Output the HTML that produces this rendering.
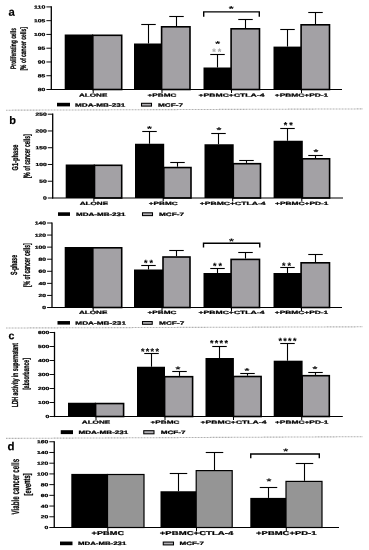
<!DOCTYPE html>
<html><head><meta charset="utf-8"><title>Figure</title>
<style>html,body{margin:0;padding:0;background:#fff}svg{display:block}text{text-rendering:geometricPrecision}</style></head>
<body>
<svg width="369" height="550" viewBox="0 0 369 550">
<rect width="369" height="550" fill="#fff"/>
<line x1="6.00" y1="110.20" x2="363.00" y2="108.90" stroke="#a8a8a8" stroke-width="1.1" stroke-dasharray="0.9 0.6"/>
<line x1="6.00" y1="328.00" x2="363.00" y2="326.80" stroke="#a8a8a8" stroke-width="1.1" stroke-dasharray="0.9 0.6"/>
<line x1="6.00" y1="438.40" x2="363.00" y2="436.70" stroke="#a8a8a8" stroke-width="1.1" stroke-dasharray="0.9 0.6"/>
<rect x="64.70" y="34.50" width="28.50" height="55.00" fill="#000"/>
<rect x="92.80" y="35.30" width="28.90" height="54.20" fill="#a3a1a5" stroke="#000" stroke-width="1.6"/>
<line x1="93.20" y1="89.50" x2="93.20" y2="93.00" stroke="#000" stroke-width="1.0" />
<line x1="148.50" y1="24.50" x2="148.50" y2="43.50" stroke="#000" stroke-width="1.1" />
<line x1="141.25" y1="24.50" x2="155.75" y2="24.50" stroke="#000" stroke-width="1.1" />
<line x1="176.50" y1="16.50" x2="176.50" y2="26.00" stroke="#000" stroke-width="1.1" />
<line x1="169.25" y1="16.50" x2="183.75" y2="16.50" stroke="#000" stroke-width="1.1" />
<rect x="134.00" y="43.50" width="28.00" height="46.00" fill="#000"/>
<rect x="161.60" y="26.80" width="28.40" height="62.70" fill="#a3a1a5" stroke="#000" stroke-width="1.6"/>
<line x1="162.00" y1="89.50" x2="162.00" y2="93.00" stroke="#000" stroke-width="1.0" />
<line x1="217.50" y1="54.50" x2="217.50" y2="67.50" stroke="#000" stroke-width="1.1" />
<line x1="210.25" y1="54.50" x2="224.75" y2="54.50" stroke="#000" stroke-width="1.1" />
<line x1="245.50" y1="19.50" x2="245.50" y2="28.00" stroke="#000" stroke-width="1.1" />
<line x1="238.25" y1="19.50" x2="252.75" y2="19.50" stroke="#000" stroke-width="1.1" />
<rect x="203.50" y="67.50" width="28.00" height="22.00" fill="#000"/>
<rect x="231.10" y="28.80" width="28.40" height="60.70" fill="#a3a1a5" stroke="#000" stroke-width="1.6"/>
<line x1="231.50" y1="89.50" x2="231.50" y2="93.00" stroke="#000" stroke-width="1.0" />
<line x1="287.50" y1="29.50" x2="287.50" y2="46.60" stroke="#000" stroke-width="1.1" />
<line x1="280.25" y1="29.50" x2="294.75" y2="29.50" stroke="#000" stroke-width="1.1" />
<line x1="315.50" y1="12.50" x2="315.50" y2="24.00" stroke="#000" stroke-width="1.1" />
<line x1="308.25" y1="12.50" x2="322.75" y2="12.50" stroke="#000" stroke-width="1.1" />
<rect x="273.50" y="46.60" width="28.00" height="42.90" fill="#000"/>
<rect x="301.10" y="24.80" width="28.40" height="64.70" fill="#a3a1a5" stroke="#000" stroke-width="1.6"/>
<line x1="301.50" y1="89.50" x2="301.50" y2="93.00" stroke="#000" stroke-width="1.0" />
<line x1="51.30" y1="6.30" x2="51.30" y2="90.10" stroke="#000" stroke-width="1.3" />
<line x1="50.70" y1="89.50" x2="342.00" y2="89.50" stroke="#000" stroke-width="1.2" />
<line x1="46.40" y1="6.90" x2="51.30" y2="6.90" stroke="#000" stroke-width="0.95" />
<text x="45.30" y="8.50" font-size="4.4" font-weight="bold" text-anchor="end" fill="#000" transform="rotate(0.04 45.30 8.50)" font-family="Liberation Sans, Arial, sans-serif" textLength="11.25" lengthAdjust="spacingAndGlyphs"  stroke="#000" stroke-width="0.22">110</text>
<line x1="46.40" y1="20.67" x2="51.30" y2="20.67" stroke="#000" stroke-width="0.95" />
<text x="45.30" y="22.27" font-size="4.4" font-weight="bold" text-anchor="end" fill="#000" transform="rotate(0.04 45.30 22.27)" font-family="Liberation Sans, Arial, sans-serif" textLength="11.25" lengthAdjust="spacingAndGlyphs"  stroke="#000" stroke-width="0.22">105</text>
<line x1="46.40" y1="34.43" x2="51.30" y2="34.43" stroke="#000" stroke-width="0.95" />
<text x="45.30" y="36.03" font-size="4.4" font-weight="bold" text-anchor="end" fill="#000" transform="rotate(0.04 45.30 36.03)" font-family="Liberation Sans, Arial, sans-serif" textLength="11.25" lengthAdjust="spacingAndGlyphs"  stroke="#000" stroke-width="0.22">100</text>
<line x1="46.40" y1="48.20" x2="51.30" y2="48.20" stroke="#000" stroke-width="0.95" />
<text x="45.30" y="49.80" font-size="4.4" font-weight="bold" text-anchor="end" fill="#000" transform="rotate(0.04 45.30 49.80)" font-family="Liberation Sans, Arial, sans-serif" textLength="7.50" lengthAdjust="spacingAndGlyphs"  stroke="#000" stroke-width="0.22">95</text>
<line x1="46.40" y1="61.97" x2="51.30" y2="61.97" stroke="#000" stroke-width="0.95" />
<text x="45.30" y="63.57" font-size="4.4" font-weight="bold" text-anchor="end" fill="#000" transform="rotate(0.04 45.30 63.57)" font-family="Liberation Sans, Arial, sans-serif" textLength="7.50" lengthAdjust="spacingAndGlyphs"  stroke="#000" stroke-width="0.22">90</text>
<line x1="46.40" y1="75.73" x2="51.30" y2="75.73" stroke="#000" stroke-width="0.95" />
<text x="45.30" y="77.33" font-size="4.4" font-weight="bold" text-anchor="end" fill="#000" transform="rotate(0.04 45.30 77.33)" font-family="Liberation Sans, Arial, sans-serif" textLength="7.50" lengthAdjust="spacingAndGlyphs"  stroke="#000" stroke-width="0.22">85</text>
<line x1="46.40" y1="89.50" x2="51.30" y2="89.50" stroke="#000" stroke-width="0.95" />
<text x="45.30" y="91.10" font-size="4.4" font-weight="bold" text-anchor="end" fill="#000" transform="rotate(0.04 45.30 91.10)" font-family="Liberation Sans, Arial, sans-serif" textLength="7.50" lengthAdjust="spacingAndGlyphs"  stroke="#000" stroke-width="0.22">80</text>
<text x="93.20" y="96.70" font-size="4.7" font-weight="bold" text-anchor="middle" fill="#000" transform="rotate(0.04 93.20 96.70)" font-family="Liberation Sans, Arial, sans-serif" textLength="28.50" lengthAdjust="spacingAndGlyphs"  stroke="#000" stroke-width="0.22">ALONE</text>
<text x="162.00" y="96.70" font-size="4.7" font-weight="bold" text-anchor="middle" fill="#000" transform="rotate(0.04 162.00 96.70)" font-family="Liberation Sans, Arial, sans-serif" textLength="28.80" lengthAdjust="spacingAndGlyphs"  stroke="#000" stroke-width="0.22">+PBMC</text>
<text x="231.50" y="96.70" font-size="4.7" font-weight="bold" text-anchor="middle" fill="#000" transform="rotate(0.04 231.50 96.70)" font-family="Liberation Sans, Arial, sans-serif" textLength="66.00" lengthAdjust="spacingAndGlyphs"  stroke="#000" stroke-width="0.22">+PBMC+CTLA-4</text>
<text x="301.50" y="96.70" font-size="4.7" font-weight="bold" text-anchor="middle" fill="#000" transform="rotate(0.04 301.50 96.70)" font-family="Liberation Sans, Arial, sans-serif" textLength="53.50" lengthAdjust="spacingAndGlyphs"  stroke="#000" stroke-width="0.22">+PBMC+PD-1</text>
<rect x="57.00" y="102.80" width="13.00" height="3.60" fill="#000"/>
<text x="75.00" y="106.80" font-size="4.9" font-weight="bold" text-anchor="start" fill="#000" transform="rotate(0.04 75.00 106.80)" font-family="Liberation Sans, Arial, sans-serif" textLength="50.30" lengthAdjust="spacingAndGlyphs"  stroke="#000" stroke-width="0.22">MDA-MB-231</text>
<rect x="141.50" y="103.30" width="10.00" height="2.80" fill="#b0aeb2" stroke="#000" stroke-width="1.05"/>
<text x="158.00" y="106.80" font-size="4.9" font-weight="bold" text-anchor="start" fill="#000" transform="rotate(0.04 158.00 106.80)" font-family="Liberation Sans, Arial, sans-serif" textLength="25.00" lengthAdjust="spacingAndGlyphs"  stroke="#000" stroke-width="0.22">MCF-7</text>
<text x="217.60" y="46.41" font-size="7.8" font-weight="bold" text-anchor="middle" fill="#000" transform="rotate(0.04 217.60 46.41)" font-family="Liberation Sans, Arial, sans-serif" textLength="4.90" lengthAdjust="spacingAndGlyphs"  stroke="#000" stroke-width="0.1">*</text>
<text x="216.70" y="54.69" font-size="9" font-weight="bold" text-anchor="middle" fill="#a8a8a8" transform="rotate(0.04 216.70 54.69)" font-family="Liberation Sans, Arial, sans-serif" textLength="9.00" lengthAdjust="spacing"  stroke="#a8a8a8" stroke-width="0.1">**</text>
<text x="231.30" y="11.61" font-size="7.8" font-weight="bold" text-anchor="middle" fill="#000" transform="rotate(0.04 231.30 11.61)" font-family="Liberation Sans, Arial, sans-serif" textLength="4.90" lengthAdjust="spacingAndGlyphs"  stroke="#000" stroke-width="0.1">*</text>
<path d="M203.70 16.80V11.90H259.30V16.80" fill="none" stroke="#000" stroke-width="1.4"/>
<text x="8.50" y="15.70" font-size="11.3" font-weight="bold" text-anchor="start" fill="#000" transform="rotate(0.04 8.50 15.70)" font-family="Liberation Sans, Arial, sans-serif"  stroke="#000" stroke-width="0.15">a</text>
<text transform="translate(16.20,48.50) rotate(-90.04)" font-size="8" font-weight="bold" text-anchor="middle" textLength="41.00" lengthAdjust="spacingAndGlyphs" font-family="Liberation Sans, Arial, sans-serif" fill="#000" stroke="#000" stroke-width="0.25">Proliferating cells</text>
<text transform="translate(26.20,48.80) rotate(-90.04)" font-size="8" font-weight="bold" text-anchor="middle" textLength="43.50" lengthAdjust="spacingAndGlyphs" font-family="Liberation Sans, Arial, sans-serif" fill="#000" stroke="#000" stroke-width="0.25">[% of cancer cells]</text>
<rect x="65.70" y="164.50" width="29.20" height="33.50" fill="#000"/>
<rect x="94.50" y="165.30" width="27.20" height="32.70" fill="#a3a1a5" stroke="#000" stroke-width="1.6"/>
<line x1="93.90" y1="198.00" x2="93.90" y2="201.50" stroke="#000" stroke-width="1.0" />
<line x1="149.50" y1="131.50" x2="149.50" y2="143.75" stroke="#000" stroke-width="1.1" />
<line x1="142.25" y1="131.50" x2="156.75" y2="131.50" stroke="#000" stroke-width="1.1" />
<line x1="177.50" y1="162.50" x2="177.50" y2="166.75" stroke="#000" stroke-width="1.1" />
<line x1="170.25" y1="162.50" x2="184.75" y2="162.50" stroke="#000" stroke-width="1.1" />
<rect x="135.00" y="143.75" width="29.20" height="54.25" fill="#000"/>
<rect x="163.80" y="167.55" width="27.20" height="30.45" fill="#a3a1a5" stroke="#000" stroke-width="1.6"/>
<line x1="163.20" y1="198.00" x2="163.20" y2="201.50" stroke="#000" stroke-width="1.0" />
<line x1="218.50" y1="133.50" x2="218.50" y2="144.25" stroke="#000" stroke-width="1.1" />
<line x1="211.25" y1="133.50" x2="225.75" y2="133.50" stroke="#000" stroke-width="1.1" />
<line x1="246.50" y1="160.50" x2="246.50" y2="162.90" stroke="#000" stroke-width="1.1" />
<line x1="239.25" y1="160.50" x2="253.75" y2="160.50" stroke="#000" stroke-width="1.1" />
<rect x="204.50" y="144.25" width="29.20" height="53.75" fill="#000"/>
<rect x="233.30" y="163.70" width="27.20" height="34.30" fill="#a3a1a5" stroke="#000" stroke-width="1.6"/>
<line x1="232.70" y1="198.00" x2="232.70" y2="201.50" stroke="#000" stroke-width="1.0" />
<line x1="287.50" y1="128.50" x2="287.50" y2="140.75" stroke="#000" stroke-width="1.1" />
<line x1="280.25" y1="128.50" x2="294.75" y2="128.50" stroke="#000" stroke-width="1.1" />
<line x1="315.50" y1="155.50" x2="315.50" y2="158.00" stroke="#000" stroke-width="1.1" />
<line x1="308.25" y1="155.50" x2="322.75" y2="155.50" stroke="#000" stroke-width="1.1" />
<rect x="273.60" y="140.75" width="29.20" height="57.25" fill="#000"/>
<rect x="302.40" y="158.80" width="27.20" height="39.20" fill="#a3a1a5" stroke="#000" stroke-width="1.6"/>
<line x1="301.80" y1="198.00" x2="301.80" y2="201.50" stroke="#000" stroke-width="1.0" />
<line x1="52.70" y1="113.60" x2="52.70" y2="198.60" stroke="#000" stroke-width="1.3" />
<line x1="52.10" y1="198.00" x2="343.00" y2="198.00" stroke="#000" stroke-width="1.2" />
<line x1="47.80" y1="114.20" x2="52.70" y2="114.20" stroke="#000" stroke-width="0.95" />
<text x="46.70" y="115.80" font-size="4.4" font-weight="bold" text-anchor="end" fill="#000" transform="rotate(0.04 46.70 115.80)" font-family="Liberation Sans, Arial, sans-serif" textLength="11.25" lengthAdjust="spacingAndGlyphs"  stroke="#000" stroke-width="0.22">250</text>
<line x1="47.80" y1="130.96" x2="52.70" y2="130.96" stroke="#000" stroke-width="0.95" />
<text x="46.70" y="132.56" font-size="4.4" font-weight="bold" text-anchor="end" fill="#000" transform="rotate(0.04 46.70 132.56)" font-family="Liberation Sans, Arial, sans-serif" textLength="11.25" lengthAdjust="spacingAndGlyphs"  stroke="#000" stroke-width="0.22">200</text>
<line x1="47.80" y1="147.72" x2="52.70" y2="147.72" stroke="#000" stroke-width="0.95" />
<text x="46.70" y="149.32" font-size="4.4" font-weight="bold" text-anchor="end" fill="#000" transform="rotate(0.04 46.70 149.32)" font-family="Liberation Sans, Arial, sans-serif" textLength="11.25" lengthAdjust="spacingAndGlyphs"  stroke="#000" stroke-width="0.22">150</text>
<line x1="47.80" y1="164.48" x2="52.70" y2="164.48" stroke="#000" stroke-width="0.95" />
<text x="46.70" y="166.08" font-size="4.4" font-weight="bold" text-anchor="end" fill="#000" transform="rotate(0.04 46.70 166.08)" font-family="Liberation Sans, Arial, sans-serif" textLength="11.25" lengthAdjust="spacingAndGlyphs"  stroke="#000" stroke-width="0.22">100</text>
<line x1="47.80" y1="181.24" x2="52.70" y2="181.24" stroke="#000" stroke-width="0.95" />
<text x="46.70" y="182.84" font-size="4.4" font-weight="bold" text-anchor="end" fill="#000" transform="rotate(0.04 46.70 182.84)" font-family="Liberation Sans, Arial, sans-serif" textLength="7.50" lengthAdjust="spacingAndGlyphs"  stroke="#000" stroke-width="0.22">50</text>
<line x1="47.80" y1="198.00" x2="52.70" y2="198.00" stroke="#000" stroke-width="0.95" />
<text x="46.70" y="199.60" font-size="4.4" font-weight="bold" text-anchor="end" fill="#000" transform="rotate(0.04 46.70 199.60)" font-family="Liberation Sans, Arial, sans-serif" textLength="3.75" lengthAdjust="spacingAndGlyphs"  stroke="#000" stroke-width="0.22">0</text>
<text x="93.90" y="205.00" font-size="4.7" font-weight="bold" text-anchor="middle" fill="#000" transform="rotate(0.04 93.90 205.00)" font-family="Liberation Sans, Arial, sans-serif" textLength="28.50" lengthAdjust="spacingAndGlyphs"  stroke="#000" stroke-width="0.22">ALONE</text>
<text x="163.20" y="205.00" font-size="4.7" font-weight="bold" text-anchor="middle" fill="#000" transform="rotate(0.04 163.20 205.00)" font-family="Liberation Sans, Arial, sans-serif" textLength="28.80" lengthAdjust="spacingAndGlyphs"  stroke="#000" stroke-width="0.22">+PBMC</text>
<text x="232.70" y="205.00" font-size="4.7" font-weight="bold" text-anchor="middle" fill="#000" transform="rotate(0.04 232.70 205.00)" font-family="Liberation Sans, Arial, sans-serif" textLength="66.00" lengthAdjust="spacingAndGlyphs"  stroke="#000" stroke-width="0.22">+PBMC+CTLA-4</text>
<text x="301.80" y="205.00" font-size="4.7" font-weight="bold" text-anchor="middle" fill="#000" transform="rotate(0.04 301.80 205.00)" font-family="Liberation Sans, Arial, sans-serif" textLength="53.50" lengthAdjust="spacingAndGlyphs"  stroke="#000" stroke-width="0.22">+PBMC+PD-1</text>
<rect x="58.00" y="212.30" width="12.00" height="3.60" fill="#000"/>
<text x="76.00" y="216.00" font-size="4.9" font-weight="bold" text-anchor="start" fill="#000" transform="rotate(0.04 76.00 216.00)" font-family="Liberation Sans, Arial, sans-serif" textLength="49.50" lengthAdjust="spacingAndGlyphs"  stroke="#000" stroke-width="0.22">MDA-MB-231</text>
<rect x="142.50" y="212.80" width="10.00" height="2.80" fill="#b0aeb2" stroke="#000" stroke-width="1.05"/>
<text x="159.00" y="216.00" font-size="4.9" font-weight="bold" text-anchor="start" fill="#000" transform="rotate(0.04 159.00 216.00)" font-family="Liberation Sans, Arial, sans-serif" textLength="25.00" lengthAdjust="spacingAndGlyphs"  stroke="#000" stroke-width="0.22">MCF-7</text>
<text x="149.50" y="131.41" font-size="7.8" font-weight="bold" text-anchor="middle" fill="#000" transform="rotate(0.04 149.50 131.41)" font-family="Liberation Sans, Arial, sans-serif" textLength="4.90" lengthAdjust="spacingAndGlyphs"  stroke="#000" stroke-width="0.1">*</text>
<text x="219.00" y="132.81" font-size="7.8" font-weight="bold" text-anchor="middle" fill="#000" transform="rotate(0.04 219.00 132.81)" font-family="Liberation Sans, Arial, sans-serif" textLength="4.90" lengthAdjust="spacingAndGlyphs"  stroke="#000" stroke-width="0.1">*</text>
<text x="288.20" y="128.19" font-size="9" font-weight="bold" text-anchor="middle" fill="#000" transform="rotate(0.04 288.20 128.19)" font-family="Liberation Sans, Arial, sans-serif" textLength="9.00" lengthAdjust="spacing"  stroke="#000" stroke-width="0.1">**</text>
<text x="316.00" y="154.81" font-size="7.8" font-weight="bold" text-anchor="middle" fill="#000" transform="rotate(0.04 316.00 154.81)" font-family="Liberation Sans, Arial, sans-serif" textLength="4.90" lengthAdjust="spacingAndGlyphs"  stroke="#000" stroke-width="0.1">*</text>
<text x="9.30" y="124.00" font-size="11" font-weight="bold" text-anchor="start" fill="#000" transform="rotate(0.04 9.30 124.00)" font-family="Liberation Sans, Arial, sans-serif"  stroke="#000" stroke-width="0.15">b</text>
<text transform="translate(17.60,157.50) rotate(-90.04)" font-size="8.6" font-weight="bold" text-anchor="middle" textLength="26.00" lengthAdjust="spacingAndGlyphs" font-family="Liberation Sans, Arial, sans-serif" fill="#000" stroke="#000" stroke-width="0.25">G1-phase</text>
<text transform="translate(29.60,156.30) rotate(-90.04)" font-size="9" font-weight="bold" text-anchor="middle" textLength="44.00" lengthAdjust="spacingAndGlyphs" font-family="Liberation Sans, Arial, sans-serif" fill="#000" stroke="#000" stroke-width="0.25">[% of cancer cells]</text>
<rect x="64.70" y="247.00" width="28.50" height="60.50" fill="#000"/>
<rect x="92.80" y="247.80" width="28.90" height="59.70" fill="#a3a1a5" stroke="#000" stroke-width="1.6"/>
<line x1="93.20" y1="307.50" x2="93.20" y2="311.00" stroke="#000" stroke-width="1.0" />
<line x1="148.50" y1="265.50" x2="148.50" y2="269.50" stroke="#000" stroke-width="1.1" />
<line x1="141.25" y1="265.50" x2="155.75" y2="265.50" stroke="#000" stroke-width="1.1" />
<line x1="176.50" y1="250.50" x2="176.50" y2="256.20" stroke="#000" stroke-width="1.1" />
<line x1="169.25" y1="250.50" x2="183.75" y2="250.50" stroke="#000" stroke-width="1.1" />
<rect x="134.00" y="269.50" width="29.40" height="38.00" fill="#000"/>
<rect x="163.00" y="257.00" width="27.00" height="50.50" fill="#a3a1a5" stroke="#000" stroke-width="1.6"/>
<line x1="162.00" y1="307.50" x2="162.00" y2="311.00" stroke="#000" stroke-width="1.0" />
<line x1="217.50" y1="268.50" x2="217.50" y2="273.00" stroke="#000" stroke-width="1.1" />
<line x1="210.25" y1="268.50" x2="224.75" y2="268.50" stroke="#000" stroke-width="1.1" />
<line x1="245.50" y1="252.50" x2="245.50" y2="258.60" stroke="#000" stroke-width="1.1" />
<line x1="238.25" y1="252.50" x2="252.75" y2="252.50" stroke="#000" stroke-width="1.1" />
<rect x="203.50" y="273.00" width="28.00" height="34.50" fill="#000"/>
<rect x="231.10" y="259.40" width="28.40" height="48.10" fill="#a3a1a5" stroke="#000" stroke-width="1.6"/>
<line x1="231.50" y1="307.50" x2="231.50" y2="311.00" stroke="#000" stroke-width="1.0" />
<line x1="287.50" y1="267.50" x2="287.50" y2="273.00" stroke="#000" stroke-width="1.1" />
<line x1="280.25" y1="267.50" x2="294.75" y2="267.50" stroke="#000" stroke-width="1.1" />
<line x1="315.50" y1="254.50" x2="315.50" y2="262.00" stroke="#000" stroke-width="1.1" />
<line x1="308.25" y1="254.50" x2="322.75" y2="254.50" stroke="#000" stroke-width="1.1" />
<rect x="273.50" y="273.00" width="28.00" height="34.50" fill="#000"/>
<rect x="301.10" y="262.80" width="28.40" height="44.70" fill="#a3a1a5" stroke="#000" stroke-width="1.6"/>
<line x1="301.50" y1="307.50" x2="301.50" y2="311.00" stroke="#000" stroke-width="1.0" />
<line x1="52.00" y1="222.40" x2="52.00" y2="308.10" stroke="#000" stroke-width="1.3" />
<line x1="51.40" y1="307.50" x2="342.00" y2="307.50" stroke="#000" stroke-width="1.2" />
<line x1="47.10" y1="223.00" x2="52.00" y2="223.00" stroke="#000" stroke-width="0.95" />
<text x="46.00" y="224.60" font-size="4.4" font-weight="bold" text-anchor="end" fill="#000" transform="rotate(0.04 46.00 224.60)" font-family="Liberation Sans, Arial, sans-serif" textLength="11.25" lengthAdjust="spacingAndGlyphs"  stroke="#000" stroke-width="0.22">140</text>
<line x1="47.10" y1="235.07" x2="52.00" y2="235.07" stroke="#000" stroke-width="0.95" />
<text x="46.00" y="236.67" font-size="4.4" font-weight="bold" text-anchor="end" fill="#000" transform="rotate(0.04 46.00 236.67)" font-family="Liberation Sans, Arial, sans-serif" textLength="11.25" lengthAdjust="spacingAndGlyphs"  stroke="#000" stroke-width="0.22">120</text>
<line x1="47.10" y1="247.14" x2="52.00" y2="247.14" stroke="#000" stroke-width="0.95" />
<text x="46.00" y="248.74" font-size="4.4" font-weight="bold" text-anchor="end" fill="#000" transform="rotate(0.04 46.00 248.74)" font-family="Liberation Sans, Arial, sans-serif" textLength="11.25" lengthAdjust="spacingAndGlyphs"  stroke="#000" stroke-width="0.22">100</text>
<line x1="47.10" y1="259.21" x2="52.00" y2="259.21" stroke="#000" stroke-width="0.95" />
<text x="46.00" y="260.81" font-size="4.4" font-weight="bold" text-anchor="end" fill="#000" transform="rotate(0.04 46.00 260.81)" font-family="Liberation Sans, Arial, sans-serif" textLength="7.50" lengthAdjust="spacingAndGlyphs"  stroke="#000" stroke-width="0.22">80</text>
<line x1="47.10" y1="271.29" x2="52.00" y2="271.29" stroke="#000" stroke-width="0.95" />
<text x="46.00" y="272.89" font-size="4.4" font-weight="bold" text-anchor="end" fill="#000" transform="rotate(0.04 46.00 272.89)" font-family="Liberation Sans, Arial, sans-serif" textLength="7.50" lengthAdjust="spacingAndGlyphs"  stroke="#000" stroke-width="0.22">60</text>
<line x1="47.10" y1="283.36" x2="52.00" y2="283.36" stroke="#000" stroke-width="0.95" />
<text x="46.00" y="284.96" font-size="4.4" font-weight="bold" text-anchor="end" fill="#000" transform="rotate(0.04 46.00 284.96)" font-family="Liberation Sans, Arial, sans-serif" textLength="7.50" lengthAdjust="spacingAndGlyphs"  stroke="#000" stroke-width="0.22">40</text>
<line x1="47.10" y1="295.43" x2="52.00" y2="295.43" stroke="#000" stroke-width="0.95" />
<text x="46.00" y="297.03" font-size="4.4" font-weight="bold" text-anchor="end" fill="#000" transform="rotate(0.04 46.00 297.03)" font-family="Liberation Sans, Arial, sans-serif" textLength="7.50" lengthAdjust="spacingAndGlyphs"  stroke="#000" stroke-width="0.22">20</text>
<line x1="47.10" y1="307.50" x2="52.00" y2="307.50" stroke="#000" stroke-width="0.95" />
<text x="46.00" y="309.10" font-size="4.4" font-weight="bold" text-anchor="end" fill="#000" transform="rotate(0.04 46.00 309.10)" font-family="Liberation Sans, Arial, sans-serif" textLength="3.75" lengthAdjust="spacingAndGlyphs"  stroke="#000" stroke-width="0.22">0</text>
<text x="93.20" y="314.10" font-size="4.7" font-weight="bold" text-anchor="middle" fill="#000" transform="rotate(0.04 93.20 314.10)" font-family="Liberation Sans, Arial, sans-serif" textLength="28.50" lengthAdjust="spacingAndGlyphs"  stroke="#000" stroke-width="0.22">ALONE</text>
<text x="162.00" y="314.10" font-size="4.7" font-weight="bold" text-anchor="middle" fill="#000" transform="rotate(0.04 162.00 314.10)" font-family="Liberation Sans, Arial, sans-serif" textLength="28.80" lengthAdjust="spacingAndGlyphs"  stroke="#000" stroke-width="0.22">+PBMC</text>
<text x="231.50" y="314.10" font-size="4.7" font-weight="bold" text-anchor="middle" fill="#000" transform="rotate(0.04 231.50 314.10)" font-family="Liberation Sans, Arial, sans-serif" textLength="66.00" lengthAdjust="spacingAndGlyphs"  stroke="#000" stroke-width="0.22">+PBMC+CTLA-4</text>
<text x="301.50" y="314.10" font-size="4.7" font-weight="bold" text-anchor="middle" fill="#000" transform="rotate(0.04 301.50 314.10)" font-family="Liberation Sans, Arial, sans-serif" textLength="53.50" lengthAdjust="spacingAndGlyphs"  stroke="#000" stroke-width="0.22">+PBMC+PD-1</text>
<rect x="57.50" y="321.05" width="12.50" height="3.55" fill="#000"/>
<text x="75.30" y="324.70" font-size="4.9" font-weight="bold" text-anchor="start" fill="#000" transform="rotate(0.04 75.30 324.70)" font-family="Liberation Sans, Arial, sans-serif" textLength="50.70" lengthAdjust="spacingAndGlyphs"  stroke="#000" stroke-width="0.22">MDA-MB-231</text>
<rect x="142.50" y="321.55" width="9.75" height="2.75" fill="#b0aeb2" stroke="#000" stroke-width="1.05"/>
<text x="159.00" y="324.70" font-size="4.9" font-weight="bold" text-anchor="start" fill="#000" transform="rotate(0.04 159.00 324.70)" font-family="Liberation Sans, Arial, sans-serif" textLength="25.30" lengthAdjust="spacingAndGlyphs"  stroke="#000" stroke-width="0.22">MCF-7</text>
<text x="148.40" y="266.08" font-size="9" font-weight="bold" text-anchor="middle" fill="#000" transform="rotate(0.04 148.40 266.08)" font-family="Liberation Sans, Arial, sans-serif" textLength="9.00" lengthAdjust="spacing"  stroke="#000" stroke-width="0.1">**</text>
<text x="217.40" y="269.08" font-size="9" font-weight="bold" text-anchor="middle" fill="#000" transform="rotate(0.04 217.40 269.08)" font-family="Liberation Sans, Arial, sans-serif" textLength="9.00" lengthAdjust="spacing"  stroke="#000" stroke-width="0.1">**</text>
<text x="286.40" y="268.69" font-size="9" font-weight="bold" text-anchor="middle" fill="#000" transform="rotate(0.04 286.40 268.69)" font-family="Liberation Sans, Arial, sans-serif" textLength="9.00" lengthAdjust="spacing"  stroke="#000" stroke-width="0.1">**</text>
<text x="231.50" y="243.91" font-size="7.8" font-weight="bold" text-anchor="middle" fill="#000" transform="rotate(0.04 231.50 243.91)" font-family="Liberation Sans, Arial, sans-serif" textLength="4.90" lengthAdjust="spacingAndGlyphs"  stroke="#000" stroke-width="0.1">*</text>
<path d="M203.50 247.50V243.30H259.75V247.50" fill="none" stroke="#000" stroke-width="1.4"/>
<text transform="translate(17.30,265.00) rotate(-90.04)" font-size="9" font-weight="bold" text-anchor="middle" textLength="20.00" lengthAdjust="spacingAndGlyphs" font-family="Liberation Sans, Arial, sans-serif" fill="#000" stroke="#000" stroke-width="0.25">S-phase</text>
<text transform="translate(29.60,265.20) rotate(-90.04)" font-size="9.4" font-weight="bold" text-anchor="middle" textLength="43.50" lengthAdjust="spacingAndGlyphs" font-family="Liberation Sans, Arial, sans-serif" fill="#000" stroke="#000" stroke-width="0.25">[% of cancer cells]</text>
<rect x="68.00" y="402.75" width="28.00" height="13.75" fill="#000"/>
<rect x="95.60" y="403.55" width="28.00" height="12.95" fill="#a3a1a5" stroke="#000" stroke-width="1.6"/>
<line x1="96.00" y1="416.50" x2="96.00" y2="420.00" stroke="#000" stroke-width="1.0" />
<line x1="151.50" y1="353.50" x2="151.50" y2="366.75" stroke="#000" stroke-width="1.1" />
<line x1="144.25" y1="353.50" x2="158.75" y2="353.50" stroke="#000" stroke-width="1.1" />
<line x1="179.50" y1="371.50" x2="179.50" y2="375.90" stroke="#000" stroke-width="1.1" />
<line x1="172.25" y1="371.50" x2="186.75" y2="371.50" stroke="#000" stroke-width="1.1" />
<rect x="137.00" y="366.75" width="28.00" height="49.75" fill="#000"/>
<rect x="164.60" y="376.70" width="28.00" height="39.80" fill="#a3a1a5" stroke="#000" stroke-width="1.6"/>
<line x1="165.00" y1="416.50" x2="165.00" y2="420.00" stroke="#000" stroke-width="1.0" />
<line x1="219.50" y1="346.50" x2="219.50" y2="358.00" stroke="#000" stroke-width="1.1" />
<line x1="212.25" y1="346.50" x2="226.75" y2="346.50" stroke="#000" stroke-width="1.1" />
<line x1="247.50" y1="373.50" x2="247.50" y2="375.70" stroke="#000" stroke-width="1.1" />
<line x1="240.25" y1="373.50" x2="254.75" y2="373.50" stroke="#000" stroke-width="1.1" />
<rect x="205.50" y="358.00" width="28.40" height="58.50" fill="#000"/>
<rect x="233.50" y="376.50" width="27.60" height="40.00" fill="#a3a1a5" stroke="#000" stroke-width="1.6"/>
<line x1="233.50" y1="416.50" x2="233.50" y2="420.00" stroke="#000" stroke-width="1.0" />
<line x1="287.50" y1="343.50" x2="287.50" y2="360.70" stroke="#000" stroke-width="1.1" />
<line x1="280.25" y1="343.50" x2="294.75" y2="343.50" stroke="#000" stroke-width="1.1" />
<line x1="315.50" y1="372.50" x2="315.50" y2="374.90" stroke="#000" stroke-width="1.1" />
<line x1="308.25" y1="372.50" x2="322.75" y2="372.50" stroke="#000" stroke-width="1.1" />
<rect x="273.70" y="360.70" width="28.90" height="55.80" fill="#000"/>
<rect x="302.20" y="375.70" width="27.10" height="40.80" fill="#a3a1a5" stroke="#000" stroke-width="1.6"/>
<line x1="301.70" y1="416.50" x2="301.70" y2="420.00" stroke="#000" stroke-width="1.0" />
<line x1="54.50" y1="331.90" x2="54.50" y2="417.10" stroke="#000" stroke-width="1.3" />
<line x1="53.90" y1="416.50" x2="342.80" y2="416.50" stroke="#000" stroke-width="1.2" />
<line x1="49.60" y1="332.50" x2="54.50" y2="332.50" stroke="#000" stroke-width="0.95" />
<text x="49.30" y="334.10" font-size="4.4" font-weight="bold" text-anchor="end" fill="#000" transform="rotate(0.04 49.30 334.10)" font-family="Liberation Sans, Arial, sans-serif" textLength="11.25" lengthAdjust="spacingAndGlyphs"  stroke="#000" stroke-width="0.22">600</text>
<line x1="49.60" y1="346.50" x2="54.50" y2="346.50" stroke="#000" stroke-width="0.95" />
<text x="49.30" y="348.10" font-size="4.4" font-weight="bold" text-anchor="end" fill="#000" transform="rotate(0.04 49.30 348.10)" font-family="Liberation Sans, Arial, sans-serif" textLength="11.25" lengthAdjust="spacingAndGlyphs"  stroke="#000" stroke-width="0.22">500</text>
<line x1="49.60" y1="360.50" x2="54.50" y2="360.50" stroke="#000" stroke-width="0.95" />
<text x="49.30" y="362.10" font-size="4.4" font-weight="bold" text-anchor="end" fill="#000" transform="rotate(0.04 49.30 362.10)" font-family="Liberation Sans, Arial, sans-serif" textLength="11.25" lengthAdjust="spacingAndGlyphs"  stroke="#000" stroke-width="0.22">400</text>
<line x1="49.60" y1="374.50" x2="54.50" y2="374.50" stroke="#000" stroke-width="0.95" />
<text x="49.30" y="376.10" font-size="4.4" font-weight="bold" text-anchor="end" fill="#000" transform="rotate(0.04 49.30 376.10)" font-family="Liberation Sans, Arial, sans-serif" textLength="11.25" lengthAdjust="spacingAndGlyphs"  stroke="#000" stroke-width="0.22">300</text>
<line x1="49.60" y1="388.50" x2="54.50" y2="388.50" stroke="#000" stroke-width="0.95" />
<text x="49.30" y="390.10" font-size="4.4" font-weight="bold" text-anchor="end" fill="#000" transform="rotate(0.04 49.30 390.10)" font-family="Liberation Sans, Arial, sans-serif" textLength="11.25" lengthAdjust="spacingAndGlyphs"  stroke="#000" stroke-width="0.22">200</text>
<line x1="49.60" y1="402.50" x2="54.50" y2="402.50" stroke="#000" stroke-width="0.95" />
<text x="49.30" y="404.10" font-size="4.4" font-weight="bold" text-anchor="end" fill="#000" transform="rotate(0.04 49.30 404.10)" font-family="Liberation Sans, Arial, sans-serif" textLength="11.25" lengthAdjust="spacingAndGlyphs"  stroke="#000" stroke-width="0.22">100</text>
<line x1="49.60" y1="416.50" x2="54.50" y2="416.50" stroke="#000" stroke-width="0.95" />
<text x="49.30" y="418.10" font-size="4.4" font-weight="bold" text-anchor="end" fill="#000" transform="rotate(0.04 49.30 418.10)" font-family="Liberation Sans, Arial, sans-serif" textLength="3.75" lengthAdjust="spacingAndGlyphs"  stroke="#000" stroke-width="0.22">0</text>
<text x="96.00" y="423.70" font-size="4.7" font-weight="bold" text-anchor="middle" fill="#000" transform="rotate(0.04 96.00 423.70)" font-family="Liberation Sans, Arial, sans-serif" textLength="28.50" lengthAdjust="spacingAndGlyphs"  stroke="#000" stroke-width="0.22">ALONE</text>
<text x="165.00" y="423.70" font-size="4.7" font-weight="bold" text-anchor="middle" fill="#000" transform="rotate(0.04 165.00 423.70)" font-family="Liberation Sans, Arial, sans-serif" textLength="28.80" lengthAdjust="spacingAndGlyphs"  stroke="#000" stroke-width="0.22">+PBMC</text>
<text x="233.50" y="423.70" font-size="4.7" font-weight="bold" text-anchor="middle" fill="#000" transform="rotate(0.04 233.50 423.70)" font-family="Liberation Sans, Arial, sans-serif" textLength="66.00" lengthAdjust="spacingAndGlyphs"  stroke="#000" stroke-width="0.22">+PBMC+CTLA-4</text>
<text x="301.70" y="423.70" font-size="4.7" font-weight="bold" text-anchor="middle" fill="#000" transform="rotate(0.04 301.70 423.70)" font-family="Liberation Sans, Arial, sans-serif" textLength="53.50" lengthAdjust="spacingAndGlyphs"  stroke="#000" stroke-width="0.22">+PBMC+PD-1</text>
<rect x="60.75" y="430.20" width="12.25" height="3.90" fill="#000"/>
<text x="78.40" y="434.00" font-size="4.9" font-weight="bold" text-anchor="start" fill="#000" transform="rotate(0.04 78.40 434.00)" font-family="Liberation Sans, Arial, sans-serif" textLength="50.00" lengthAdjust="spacingAndGlyphs"  stroke="#000" stroke-width="0.22">MDA-MB-231</text>
<rect x="143.75" y="430.70" width="10.25" height="3.10" fill="#b0aeb2" stroke="#000" stroke-width="1.05"/>
<text x="160.75" y="434.00" font-size="4.9" font-weight="bold" text-anchor="start" fill="#000" transform="rotate(0.04 160.75 434.00)" font-family="Liberation Sans, Arial, sans-serif" textLength="24.75" lengthAdjust="spacingAndGlyphs"  stroke="#000" stroke-width="0.22">MCF-7</text>
<text x="149.90" y="354.58" font-size="9" font-weight="bold" text-anchor="middle" fill="#000" transform="rotate(0.04 149.90 354.58)" font-family="Liberation Sans, Arial, sans-serif" textLength="18.00" lengthAdjust="spacing"  stroke="#000" stroke-width="0.1">****</text>
<text x="178.00" y="371.91" font-size="7.8" font-weight="bold" text-anchor="middle" fill="#000" transform="rotate(0.04 178.00 371.91)" font-family="Liberation Sans, Arial, sans-serif" textLength="4.90" lengthAdjust="spacingAndGlyphs"  stroke="#000" stroke-width="0.1">*</text>
<text x="218.90" y="346.19" font-size="9" font-weight="bold" text-anchor="middle" fill="#000" transform="rotate(0.04 218.90 346.19)" font-family="Liberation Sans, Arial, sans-serif" textLength="18.00" lengthAdjust="spacing"  stroke="#000" stroke-width="0.1">****</text>
<text x="247.00" y="373.41" font-size="7.8" font-weight="bold" text-anchor="middle" fill="#000" transform="rotate(0.04 247.00 373.41)" font-family="Liberation Sans, Arial, sans-serif" textLength="4.90" lengthAdjust="spacingAndGlyphs"  stroke="#000" stroke-width="0.1">*</text>
<text x="287.40" y="344.08" font-size="9" font-weight="bold" text-anchor="middle" fill="#000" transform="rotate(0.04 287.40 344.08)" font-family="Liberation Sans, Arial, sans-serif" textLength="18.00" lengthAdjust="spacing"  stroke="#000" stroke-width="0.1">****</text>
<text x="315.00" y="371.71" font-size="7.8" font-weight="bold" text-anchor="middle" fill="#000" transform="rotate(0.04 315.00 371.71)" font-family="Liberation Sans, Arial, sans-serif" textLength="4.90" lengthAdjust="spacingAndGlyphs"  stroke="#000" stroke-width="0.1">*</text>
<text x="8.60" y="339.20" font-size="10.6" font-weight="bold" text-anchor="start" fill="#000" transform="rotate(0.04 8.60 339.20)" font-family="Liberation Sans, Arial, sans-serif"  stroke="#000" stroke-width="0.15">c</text>
<text transform="translate(18.00,375.00) rotate(-90.04)" font-size="8.8" font-weight="bold" text-anchor="middle" textLength="64.00" lengthAdjust="spacingAndGlyphs" font-family="Liberation Sans, Arial, sans-serif" fill="#000" stroke="#000" stroke-width="0.25">LDH activity in supernatant</text>
<text transform="translate(28.80,374.00) rotate(-90.04)" font-size="8.6" font-weight="bold" text-anchor="middle" textLength="31.70" lengthAdjust="spacingAndGlyphs" font-family="Liberation Sans, Arial, sans-serif" fill="#000" stroke="#000" stroke-width="0.25">[absorbance]</text>
<rect x="71.30" y="473.90" width="36.50" height="53.60" fill="#000"/>
<rect x="107.50" y="474.50" width="36.50" height="53.00" fill="#959595" stroke="#000" stroke-width="1.2"/>
<line x1="107.80" y1="527.50" x2="107.80" y2="531.00" stroke="#000" stroke-width="1.0" />
<line x1="178.50" y1="473.50" x2="178.50" y2="491.25" stroke="#000" stroke-width="1.1" />
<line x1="169.75" y1="473.50" x2="187.25" y2="473.50" stroke="#000" stroke-width="1.1" />
<line x1="214.50" y1="452.50" x2="214.50" y2="470.00" stroke="#000" stroke-width="1.1" />
<line x1="205.75" y1="452.50" x2="223.25" y2="452.50" stroke="#000" stroke-width="1.1" />
<rect x="160.50" y="491.25" width="36.00" height="36.25" fill="#000"/>
<rect x="196.20" y="470.60" width="36.00" height="56.90" fill="#959595" stroke="#000" stroke-width="1.2"/>
<line x1="196.50" y1="527.50" x2="196.50" y2="531.00" stroke="#000" stroke-width="1.0" />
<line x1="268.50" y1="487.50" x2="268.50" y2="497.90" stroke="#000" stroke-width="1.1" />
<line x1="259.75" y1="487.50" x2="277.25" y2="487.50" stroke="#000" stroke-width="1.1" />
<line x1="304.50" y1="463.50" x2="304.50" y2="480.80" stroke="#000" stroke-width="1.1" />
<line x1="295.75" y1="463.50" x2="313.25" y2="463.50" stroke="#000" stroke-width="1.1" />
<rect x="250.30" y="497.90" width="36.00" height="29.60" fill="#000"/>
<rect x="286.00" y="481.40" width="36.00" height="46.10" fill="#959595" stroke="#000" stroke-width="1.2"/>
<line x1="286.30" y1="527.50" x2="286.30" y2="531.00" stroke="#000" stroke-width="1.0" />
<line x1="54.25" y1="441.15" x2="54.25" y2="528.10" stroke="#000" stroke-width="1.3" />
<line x1="53.65" y1="527.50" x2="339.00" y2="527.50" stroke="#000" stroke-width="1.2" />
<line x1="49.35" y1="441.75" x2="54.25" y2="441.75" stroke="#000" stroke-width="0.95" />
<text x="48.25" y="443.35" font-size="4.4" font-weight="bold" text-anchor="end" fill="#000" transform="rotate(0.04 48.25 443.35)" font-family="Liberation Sans, Arial, sans-serif" textLength="11.25" lengthAdjust="spacingAndGlyphs"  stroke="#000" stroke-width="0.22">160</text>
<line x1="49.35" y1="452.47" x2="54.25" y2="452.47" stroke="#000" stroke-width="0.95" />
<text x="48.25" y="454.07" font-size="4.4" font-weight="bold" text-anchor="end" fill="#000" transform="rotate(0.04 48.25 454.07)" font-family="Liberation Sans, Arial, sans-serif" textLength="11.25" lengthAdjust="spacingAndGlyphs"  stroke="#000" stroke-width="0.22">140</text>
<line x1="49.35" y1="463.19" x2="54.25" y2="463.19" stroke="#000" stroke-width="0.95" />
<text x="48.25" y="464.79" font-size="4.4" font-weight="bold" text-anchor="end" fill="#000" transform="rotate(0.04 48.25 464.79)" font-family="Liberation Sans, Arial, sans-serif" textLength="11.25" lengthAdjust="spacingAndGlyphs"  stroke="#000" stroke-width="0.22">120</text>
<line x1="49.35" y1="473.91" x2="54.25" y2="473.91" stroke="#000" stroke-width="0.95" />
<text x="48.25" y="475.51" font-size="4.4" font-weight="bold" text-anchor="end" fill="#000" transform="rotate(0.04 48.25 475.51)" font-family="Liberation Sans, Arial, sans-serif" textLength="11.25" lengthAdjust="spacingAndGlyphs"  stroke="#000" stroke-width="0.22">100</text>
<line x1="49.35" y1="484.62" x2="54.25" y2="484.62" stroke="#000" stroke-width="0.95" />
<text x="48.25" y="486.23" font-size="4.4" font-weight="bold" text-anchor="end" fill="#000" transform="rotate(0.04 48.25 486.23)" font-family="Liberation Sans, Arial, sans-serif" textLength="7.50" lengthAdjust="spacingAndGlyphs"  stroke="#000" stroke-width="0.22">80</text>
<line x1="49.35" y1="495.34" x2="54.25" y2="495.34" stroke="#000" stroke-width="0.95" />
<text x="48.25" y="496.94" font-size="4.4" font-weight="bold" text-anchor="end" fill="#000" transform="rotate(0.04 48.25 496.94)" font-family="Liberation Sans, Arial, sans-serif" textLength="7.50" lengthAdjust="spacingAndGlyphs"  stroke="#000" stroke-width="0.22">60</text>
<line x1="49.35" y1="506.06" x2="54.25" y2="506.06" stroke="#000" stroke-width="0.95" />
<text x="48.25" y="507.66" font-size="4.4" font-weight="bold" text-anchor="end" fill="#000" transform="rotate(0.04 48.25 507.66)" font-family="Liberation Sans, Arial, sans-serif" textLength="7.50" lengthAdjust="spacingAndGlyphs"  stroke="#000" stroke-width="0.22">40</text>
<line x1="49.35" y1="516.78" x2="54.25" y2="516.78" stroke="#000" stroke-width="0.95" />
<text x="48.25" y="518.38" font-size="4.4" font-weight="bold" text-anchor="end" fill="#000" transform="rotate(0.04 48.25 518.38)" font-family="Liberation Sans, Arial, sans-serif" textLength="7.50" lengthAdjust="spacingAndGlyphs"  stroke="#000" stroke-width="0.22">20</text>
<line x1="49.35" y1="527.50" x2="54.25" y2="527.50" stroke="#000" stroke-width="0.95" />
<text x="48.25" y="529.10" font-size="4.4" font-weight="bold" text-anchor="end" fill="#000" transform="rotate(0.04 48.25 529.10)" font-family="Liberation Sans, Arial, sans-serif" textLength="3.75" lengthAdjust="spacingAndGlyphs"  stroke="#000" stroke-width="0.22">0</text>
<text x="107.80" y="535.10" font-size="5.6" font-weight="bold" text-anchor="middle" fill="#000" transform="rotate(0.04 107.80 535.10)" font-family="Liberation Sans, Arial, sans-serif" textLength="32.50" lengthAdjust="spacingAndGlyphs"  stroke="#000" stroke-width="0.22">+PBMC</text>
<text x="196.50" y="535.10" font-size="5.6" font-weight="bold" text-anchor="middle" fill="#000" transform="rotate(0.04 196.50 535.10)" font-family="Liberation Sans, Arial, sans-serif" textLength="73.50" lengthAdjust="spacingAndGlyphs"  stroke="#000" stroke-width="0.22">+PBMC+CTLA-4</text>
<text x="286.30" y="535.10" font-size="5.6" font-weight="bold" text-anchor="middle" fill="#000" transform="rotate(0.04 286.30 535.10)" font-family="Liberation Sans, Arial, sans-serif" textLength="60.50" lengthAdjust="spacingAndGlyphs"  stroke="#000" stroke-width="0.22">+PBMC+PD-1</text>
<rect x="60.00" y="541.55" width="12.50" height="3.65" fill="#000"/>
<text x="78.00" y="544.90" font-size="4.9" font-weight="bold" text-anchor="start" fill="#000" transform="rotate(0.04 78.00 544.90)" font-family="Liberation Sans, Arial, sans-serif" textLength="48.25" lengthAdjust="spacingAndGlyphs"  stroke="#000" stroke-width="0.22">MDA-MB-231</text>
<rect x="163.25" y="542.05" width="10.25" height="2.85" fill="#b0aeb2" stroke="#000" stroke-width="1.05"/>
<text x="179.50" y="544.90" font-size="4.9" font-weight="bold" text-anchor="start" fill="#000" transform="rotate(0.04 179.50 544.90)" font-family="Liberation Sans, Arial, sans-serif" textLength="24.50" lengthAdjust="spacingAndGlyphs"  stroke="#000" stroke-width="0.22">MCF-7</text>
<text x="269.00" y="483.91" font-size="7.8" font-weight="bold" text-anchor="middle" fill="#000" transform="rotate(0.04 269.00 483.91)" font-family="Liberation Sans, Arial, sans-serif" textLength="4.90" lengthAdjust="spacingAndGlyphs"  stroke="#000" stroke-width="0.1">*</text>
<text x="285.60" y="454.01" font-size="7.8" font-weight="bold" text-anchor="middle" fill="#000" transform="rotate(0.04 285.60 454.01)" font-family="Liberation Sans, Arial, sans-serif" textLength="4.90" lengthAdjust="spacingAndGlyphs"  stroke="#000" stroke-width="0.1">*</text>
<path d="M250.75 458.20V454.00H319.30V458.20" fill="none" stroke="#000" stroke-width="1.4"/>
<text x="7.60" y="450.20" font-size="11.5" font-weight="bold" text-anchor="start" fill="#000" transform="rotate(0.04 7.60 450.20)" font-family="Liberation Sans, Arial, sans-serif"  stroke="#000" stroke-width="0.15">d</text>
<text transform="translate(19.20,486.70) rotate(-90.04)" font-size="10.5" font-weight="bold" text-anchor="middle" textLength="55.60" lengthAdjust="spacingAndGlyphs" font-family="Liberation Sans, Arial, sans-serif" fill="#000" stroke="#000" stroke-width="0.25">Viable cancer cells</text>
<text transform="translate(30.50,484.40) rotate(-90.04)" font-size="9.6" font-weight="bold" text-anchor="middle" textLength="22.00" lengthAdjust="spacingAndGlyphs" font-family="Liberation Sans, Arial, sans-serif" fill="#000" stroke="#000" stroke-width="0.25">[events]</text>
</svg>
</body></html>
